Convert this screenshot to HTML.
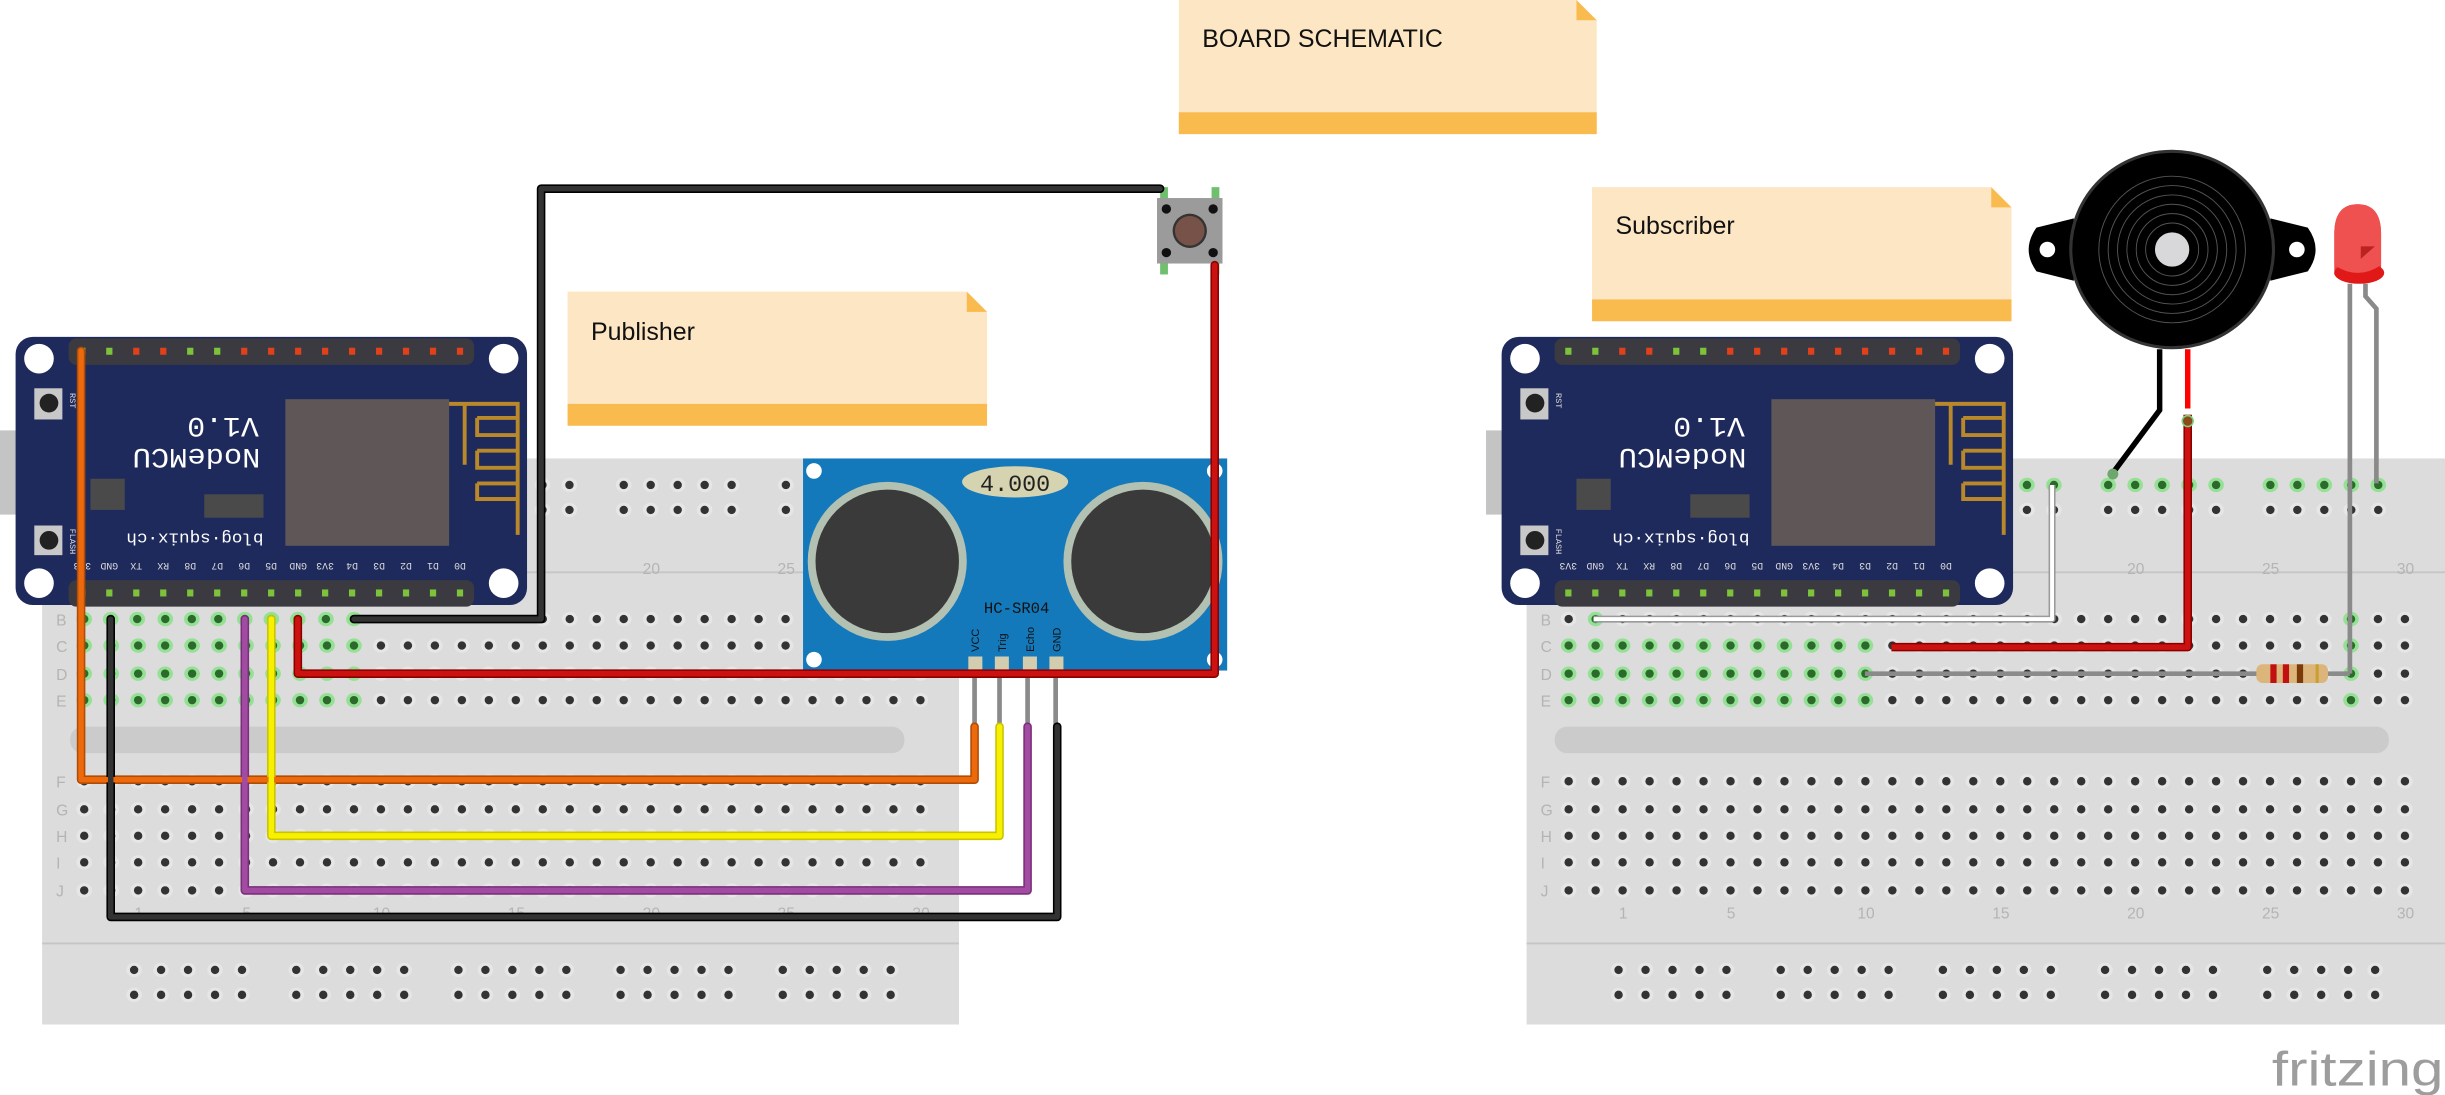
<!DOCTYPE html>
<html><head><meta charset="utf-8"><style>
html,body{margin:0;padding:0;background:#fff;}
svg{display:block;}
text{font-family:"Liberation Sans",sans-serif;}
.m{font-family:"Liberation Mono","DejaVu Sans Mono",monospace;}
</style></head><body>
<svg id="s" width="2445" height="1095" viewBox="0 0 1568 702.2" preserveAspectRatio="none" xmlns="http://www.w3.org/2000/svg">
<rect width="1568" height="702.2" fill="#fff"/>
<g id="bb">
<rect x="27" y="294" width="588" height="363" fill="#dcdcdc"/>
<rect x="979" y="294" width="589" height="363" fill="#dcdcdc"/>
<line x1="27" y1="367" x2="615" y2="367" stroke="#c6c6c6" stroke-width="1.2"/>
<line x1="27" y1="605" x2="615" y2="605" stroke="#c6c6c6" stroke-width="1.2"/>
<line x1="979" y1="367" x2="1568" y2="367" stroke="#c6c6c6" stroke-width="1.2"/>
<line x1="979" y1="605" x2="1568" y2="605" stroke="#c6c6c6" stroke-width="1.2"/>
<rect x="45" y="466" width="535" height="17" rx="8" fill="#cbcbcb"/>
<rect x="997" y="466" width="535" height="17" rx="8" fill="#cbcbcb"/>
</g>
<g id="holes"></g>
<g id="lbl" fill="#b4b4b4" font-size="10"></g>

<g>
<path d="M756 0 H1011 L1024 13 V86 H756 Z" fill="#fde6c4"/>
<rect x="756" y="72" width="268" height="14" fill="#f9bb4e"/>
<path d="M1011 0 L1024 13 H1011 Z" fill="#f9bb4e"/>
<text x="771" y="30" font-size="16" fill="#111">BOARD SCHEMATIC</text>
<path d="M364 187 H620 L633 200 V273 H364 Z" fill="#fde6c4"/>
<rect x="364" y="259" width="269" height="14" fill="#f9bb4e"/>
<path d="M620 187 L633 200 H620 Z" fill="#f9bb4e"/>
<text x="379" y="218" font-size="16" fill="#111">Publisher</text>
<path d="M1021 120 H1277 L1290 133 V206 H1021 Z" fill="#fde6c4"/>
<rect x="1021" y="192" width="269" height="14" fill="#f9bb4e"/>
<path d="M1277 120 L1290 133 H1277 Z" fill="#f9bb4e"/>
<text x="1036" y="150" font-size="16" fill="#111">Subscriber</text>
</g>

<defs>
<g id="mcu">
<rect x="0" y="276" width="34" height="54" fill="#c4c4c4"/>
<rect x="10" y="216" width="328" height="172" rx="11" fill="#1f2a5c"/>
<circle cx="25" cy="230" r="9.5" fill="#fff"/><circle cx="323" cy="230" r="9.5" fill="#fff"/>
<circle cx="25" cy="374" r="9.5" fill="#fff"/><circle cx="323" cy="374" r="9.5" fill="#fff"/>
<rect x="44" y="217" width="260" height="17" rx="5" fill="#3a3a40"/>
<rect x="44" y="372" width="260" height="17" rx="5" fill="#3a3a40"/>
<rect x="22" y="249" width="18" height="20" fill="#c8c8c8"/><circle cx="31.4" cy="258.5" r="6" fill="#222"/>
<rect x="22" y="337" width="18" height="19" fill="#c8c8c8"/><circle cx="31.4" cy="346.5" r="6" fill="#222"/>
<text x="45" y="252" font-size="5.5" fill="#ddd" transform="rotate(90 45 252)" class="m">RST</text>
<text x="45" y="339" font-size="5.5" fill="#ddd" transform="rotate(90 45 339)" class="m">FLASH</text>
<rect x="58" y="307" width="22" height="20" fill="#4a4a4a"/>
<rect x="131" y="317" width="38" height="15" fill="#4a4a4a"/>
<rect x="183" y="256" width="105" height="94" fill="#5f5757"/>
<path d="M288 259 H332 V343 M298 259 V298 M306 268 H332 M306 268 V279 H332 M306 289 H332 M306 289 V300 H332 M306 310 H332 M306 310 V320 H332" fill="none" stroke="#b8882a" stroke-width="2.5"/>
<g fill="#fff">
<g transform="rotate(180 143 276.5)"><text x="143" y="285" text-anchor="middle" font-size="18" class="m" textLength="46" lengthAdjust="spacingAndGlyphs">V1.0</text></g>
<g transform="rotate(180 126 296.5)"><text x="126" y="305" text-anchor="middle" font-size="18" class="m" textLength="82" lengthAdjust="spacingAndGlyphs">NodeMCU</text></g>
<g transform="rotate(180 125 346)"><text x="125" y="350" text-anchor="middle" font-size="10.5" class="m" textLength="88" lengthAdjust="spacingAndGlyphs">blog·squix·ch</text></g>
</g>
<g id="pins"></g>
</g>
</defs>
<use href="#mcu"/>
<use href="#mcu" x="953"/>

<g>
<rect x="515" y="294" width="272" height="136" fill="#1479bb"/>
<circle cx="522" cy="302" r="5" fill="#fff"/><circle cx="779" cy="302" r="5" fill="#fff"/>
<circle cx="522" cy="423" r="5" fill="#fff"/><circle cx="779" cy="423" r="5" fill="#fff"/>
<ellipse cx="651" cy="309" rx="34" ry="10" fill="#d6d3b1"/>
<text x="651" y="315" text-anchor="middle" font-size="15" class="m" fill="#222">4.000</text>
<circle cx="569" cy="360" r="51" fill="#b3c1b3"/><circle cx="569" cy="360" r="46" fill="#3a3a3a"/>
<circle cx="733" cy="360" r="51" fill="#b3c1b3"/><circle cx="733" cy="360" r="46" fill="#3a3a3a"/>
<text x="652" y="393" text-anchor="middle" font-size="10" class="m" fill="#111">HC-SR04</text>
<g font-size="7" class="m" fill="#111">
<text transform="translate(628 418) rotate(-90)">VCC</text>
<text transform="translate(645 418) rotate(-90)">Trig</text>
<text transform="translate(663 418) rotate(-90)">Echo</text>
<text transform="translate(680 418) rotate(-90)">GND</text>
</g>
<g fill="#d3cdb0"><rect x="621" y="421" width="9" height="9"/><rect x="638" y="421" width="9" height="9"/><rect x="656" y="421" width="9" height="9"/><rect x="673" y="421" width="9" height="9"/></g>
<g stroke="#8a8a8a" stroke-width="3"><line x1="625" y1="430" x2="625" y2="466"/><line x1="641" y1="430" x2="641" y2="466"/><line x1="659" y1="430" x2="659" y2="466"/><line x1="677" y1="430" x2="677" y2="466"/></g>
</g>

<g>
<rect x="744" y="120" width="5" height="9" fill="#6fbf6f"/><rect x="777" y="120" width="5" height="9" fill="#6fbf6f"/>
<rect x="744" y="167" width="5" height="9" fill="#6fbf6f"/><rect x="777" y="167" width="5" height="9" fill="#6fbf6f"/>
<rect x="742" y="127" width="42" height="42" fill="#9b9b9b"/>
<circle cx="748" cy="134" r="3" fill="#111"/><circle cx="778" cy="134" r="3" fill="#111"/>
<circle cx="748" cy="162" r="3" fill="#111"/><circle cx="778" cy="162" r="3" fill="#111"/>
<circle cx="763" cy="148" r="11" fill="#333"/><circle cx="763" cy="148" r="9.5" fill="#765248"/>
</g>

<g fill="none" stroke-linejoin="round" stroke-linecap="round">
<g stroke-width="5.5">
<path d="M52 225 V500 H625 V466" stroke="#b04c06"/>
<path d="M71 397 V588 H678 V466" stroke="#000"/>
<path d="M157 397 V571 H659 V466" stroke="#7a2f7a"/>
<path d="M174 397 V536 H641 V466" stroke="#c9c400"/>
<path d="M191 397 V432 H779 V170" stroke="#8a0000"/>
<path d="M227 397 H347 V121 H744" stroke="#000"/>
</g>
<g stroke-width="3.5">
<path d="M52 225 V500 H625 V466" stroke="#ec6a0c"/>
<path d="M71 397 V588 H678 V466" stroke="#333"/>
<path d="M157 397 V571 H659 V466" stroke="#a24ba2"/>
<path d="M174 397 V536 H641 V466" stroke="#f7f000"/>
<path d="M191 397 V432 H779 V170" stroke="#cc1111"/>
<path d="M227 397 H347 V121 H744" stroke="#333"/>
</g>
</g>

<g>
<path d="M1330 140 L1306 146 Q1296 160 1306 174 L1330 180 Z" fill="#000"/>
<path d="M1456 140 L1480 146 Q1490 160 1480 174 L1456 180 Z" fill="#000"/>
<ellipse cx="1393" cy="160" rx="65" ry="63" fill="#000" stroke="#333" stroke-width="2"/>
<circle cx="1313" cy="160" r="5" fill="#fff"/><circle cx="1473" cy="160" r="5" fill="#fff"/>
<g fill="none" stroke="#555" stroke-width="0.6">
<circle cx="1393" cy="160" r="17"/><circle cx="1393" cy="160" r="23"/><circle cx="1393" cy="160" r="29"/><circle cx="1393" cy="160" r="35"/><circle cx="1393" cy="160" r="41"/><circle cx="1393" cy="160" r="47"/>
</g>
<circle cx="1393" cy="160" r="11" fill="#d8d8da"/>
<path d="M1385 224 V263 L1353 306" fill="none" stroke="#000" stroke-width="3.5"/>
<path d="M1403 224 V262" stroke="#ff0000" stroke-width="3.5"/>
<circle cx="1355" cy="304" r="3.5" fill="#6ea76e"/>
</g>
<g>
<path d="M1507 182 V432" stroke="#8a8a8a" stroke-width="3"/>
<path d="M1517 182 V190 L1524 198 V310" fill="none" stroke="#8a8a8a" stroke-width="3"/>
<path d="M1497 150 Q1497 131 1512 131 Q1527 131 1527 150 V176 Q1512 186 1497 176 Z" fill="#ec4545"/>
<ellipse cx="1513" cy="175" rx="16" ry="7" fill="#e01818"/>
<path d="M1497 150 Q1497 131 1512 131 Q1527 131 1527 150 V170 Q1512 180 1497 170 Z" fill="#ef5050"/>
<path d="M1506 158 H1523 L1514 166 V158" fill="#bb2222"/>
</g>
<g>
<line x1="1196" y1="432" x2="1507" y2="432" stroke="#8a8a8a" stroke-width="3"/>
<rect x="1447" y="426" width="46" height="12" rx="4" fill="#dcb57a"/>
<rect x="1456" y="426" width="4" height="12" fill="#c01010"/>
<rect x="1464" y="426" width="4" height="12" fill="#c01010"/>
<rect x="1473" y="426" width="4" height="12" fill="#7a3a0a"/>
<rect x="1485" y="426" width="2" height="12" fill="#c8a030"/>
</g>
<g fill="none" stroke-linejoin="round">
<path d="M1022 397 H1316 V311" stroke="#9a9a9a" stroke-width="4.5"/>
<path d="M1022 397 H1316 V311" stroke="#fff" stroke-width="2.5"/>
<path d="M1403 266 V415 H1213" stroke="#8a0000" stroke-width="5.5"/>
<path d="M1403 266 V415 H1213" stroke="#cc1111" stroke-width="3.5"/>
</g>
<circle cx="1403" cy="270" r="3.5" fill="#8a4a1a" stroke="#7fd07f" stroke-width="1"/>

<text x="1457" y="696" font-size="31" fill="#9d9d9d" textLength="110" lengthAdjust="spacingAndGlyphs">fritzing</text>

<script>
var NS="http://www.w3.org/2000/svg";
function el(p,t,a){var e=document.createElementNS(NS,t);for(var k in a)e.setAttribute(k,a[k]);p.appendChild(e);return e;}
var H=document.getElementById('holes');
function hole(x,y,g){el(H,'ellipse',{cx:x,cy:y,rx:5,ry:4.6,fill:g?'#94e094':'#e6e6e6'});el(H,'circle',{cx:x,cy:y,r:2.7,fill:g?'#2b6a2b':'#333'});}
var rows={B:397,C:414,D:432,E:449,F:501,G:519,H:536,I:553,J:571};
var L=document.getElementById('lbl');
[0,952].forEach(function(dx){
 var right=dx>0;
 for(var r in rows){
  el(L,'text',{x:36+dx,y:rows[r]+4}).textContent=r;
  for(var k=0;k<32;k++){
   var x=54+dx+k*17.3,y=rows[r],g=false;
   if(!right){ if('BCDE'.indexOf(r)>=0 && k<=10) g=true; }
   else { if('CDE'.indexOf(r)>=0 && k<=11) g=true; if(r=='B'&&k==1) g=true; if('BCDE'.indexOf(r)>=0 && Math.abs(x-1507)<3) g=true; }
   if(!right && x<340 && r=='B') continue;
   hole(x,y,g);
  }
 }
 [1,5,10,15,20,25,30].forEach(function(n){var t=el(L,'text',{x:89+dx+(n-1)*17.3,y:589,'text-anchor':'middle'});t.textContent=n;if(n>=20){var t2=el(L,'text',{x:89+dx+(n-1)*17.3,y:368,'text-anchor':'middle'});t2.textContent=n;}});
 for(var gi=0;gi<5;gi++)for(var j=0;j<5;j++){
  var x=86+dx+gi*104+j*17.3;
  hole(x,622,false);hole(x,638,false);
  var xt=88+dx+gi*104+j*17.3;
  var g=right&&(xt>1290);
  hole(xt,311,g);hole(xt,327,false);
 }
});
var top=['Vin','GND','RST','EN','3V3','GND','CLK','SDO','CMD','SD1','SD2','SD3','RSV','RSV','A0'];
var gr=[1,1,0,0,1,1,0,0,0,0,0,0,0,0,0];
var bot=['3V3','GND','TX','RX','D8','D7','D6','D5','GND','3V3','D4','D3','D2','D1','D0'];
var pg=document.getElementById('pins');
for(var i=0;i<15;i++){
 var x=52.8+i*17.3;
 el(pg,'rect',{x:x-2,y:223,width:4,height:4.5,fill:gr[i]?'#7cc23a':'#e0401a'});
 el(pg,'rect',{x:x-2,y:378,width:4,height:4.5,fill:'#7cc23a'});
 var t=el(pg,'text',{x:x,y:242,'text-anchor':'middle','font-size':6.3,fill:'#ddd','class':'m'});t.textContent=top[i];
 var b=el(pg,'text',{transform:'matrix(-1 0 0 -1 '+x+' 361)','text-anchor':'middle','font-size':6.3,fill:'#ddd','class':'m'});b.textContent=bot[i];
}
[54,71,88,106,123,140,157,174,191,209,227].forEach(function(x){hole(x,397,true);});
</script>
</svg>
</body></html>
